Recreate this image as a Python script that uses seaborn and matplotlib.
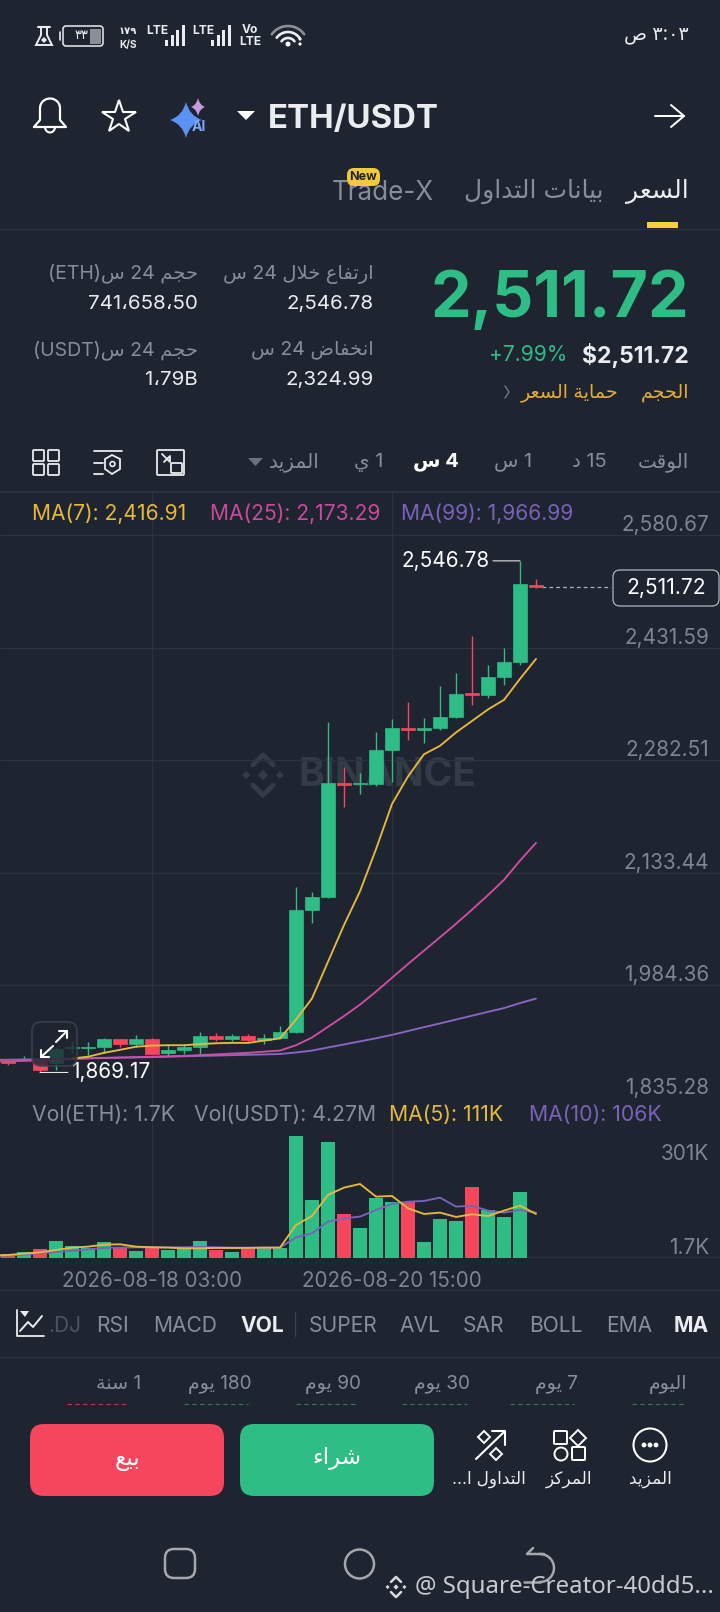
import re
import numpy as np
import pandas as pd
import seaborn as sns
import matplotlib
matplotlib.use("Agg")
import matplotlib.pyplot as plt
from matplotlib.patches import FancyBboxPatch, Circle, Polygon, PathPatch, Rectangle
from matplotlib.path import Path

BG = "#1e2531"; GRID = "#2c333e"; GREEN = "#2ebd85"; RED = "#f6465d"
YEL = "#e6b83c"; PINK = "#cf4da3"; PUR = "#8a66c4"; GREY = "#848e9c"; LIGHT = "#eaecef"

# ---------- data ----------
price_ticks = [2580.67, 2431.59, 2282.51, 2133.44, 1984.36, 1835.28]
vol_ticks = [1.7, 301]
vol_tick_labels = ["1.7K", "301K"]
date_positions = [9, 24]
date_labels = ["2026-08-18 03:00", "2026-08-20 15:00"]

cdl_high = [1884.9,1891.0,1884.9,1902.2,1910.3,1909.3,1915.4,1913.9,1918.4,1914.4,1906.3,1907.3,1922.5,1921.5,1920.5,1919.4,1920.5,1930.6,2115.2,2108.1,2333.2,2273.9,2266.3,2319.5,2337.3,2359.6,2339.3,2380.4,2398.1,2447.3,2408.3,2431.1,2546.78,2522.4]
cdl_low = [1878.9,1883.9,1869.17,1872.8,1895.1,1892.1,1895.1,1903.2,1903.2,1893.0,1891.0,1893.0,1893.0,1910.3,1910.3,1908.3,1906.3,1913.3,1921.5,2066.5,2100.0,2220.6,2238.4,2248.5,2253.6,2308.9,2305.9,2323.1,2339.0,2355.5,2364.7,2382.9,2408.3,2511.0]
cdl_open = [1883.9,1885.0,1883.9,1881.9,1901.2,1901.2,1903.2,1912.8,1906.3,1913.3,1895.1,1899.1,1902.2,1917.4,1913.9,1917.4,1912.3,1915.4,1923.0,2084.8,2101.5,2252.1,2251.0,2251.0,2296.2,2325.1,2323.1,2325.6,2340.3,2371.8,2369.7,2393.0,2412.3,2514.8]
cdl_close = [1881.9,1887.0,1872.8,1900.2,1902.7,1903.2,1912.8,1907.3,1913.9,1894.1,1898.6,1902.7,1917.4,1913.3,1917.4,1912.3,1915.4,1923.0,2084.8,2101.5,2252.1,2250.1,2252.1,2296.2,2325.1,2323.1,2325.6,2340.3,2370.3,2368.7,2393.0,2412.3,2515.8,2511.72]

ma7 = [1887.5,1890.0,1895.1,1899.1,1903.2,1904.7,1905.2,1905.2,1906.7,1907.8,1908.3,1908.3,1911.3,1914.3,1939.2,1967.1,2015.8,2064.4,2109.1,2164.9,2224.7,2261.2,2290.6,2301.8,2319.5,2334.7,2350.0,2362.7,2390.5,2416.91]
ma25 = [1884.0,1883.9,1884.5,1885.0,1886.0,1887.0,1888.0,1888.5,1889.0,1889.5,1890.0,1890.5,1891.0,1892.1,1893.0,1894.1,1895.1,1896.7,1898.1,1905.2,1915.4,1929.6,1943.8,1959.0,1976.2,1994.5,2012.8,2030.5,2048.2,2066.0,2084.8,2104.0,2124.3,2149.7,2173.29]
ma99 = [1885.8,1886.0,1886.3,1886.6,1887.0,1887.4,1887.8,1888.2,1888.6,1889.0,1889.5,1890.0,1890.5,1891.0,1891.5,1892.0,1892.5,1893.0,1893.6,1895.6,1898.1,1902.2,1906.2,1910.3,1914.4,1918.9,1924.0,1929.1,1934.1,1939.2,1944.3,1949.4,1954.4,1961.0,1966.99]

volume = [15.5,20.8,30.3,56.9,41.0,33.5,53.7,33.5,25.0,36.7,28.2,30.3,58.0,28.2,22.9,32.5,33.5,33.5,391,186,373,143,99,195,182,182,53.7,127,122,228,156,132,212,1.7]
vol_ma5 = [10.0,12.3,16.6,20.8,28.2,35.7,38.8,45.2,46.3,38.8,36.7,35.7,33.5,33.5,34.6,34.6,34.6,35.7,35.7,107.8,136.4,203.3,226.6,238.3,198.0,200.1,160.9,142.8,147.1,133.3,141.8,136.4,153.4,169.3,142.8]
vol_ma10 = [8.0,10.2,13.4,17.6,21.9,26.1,30.3,34.6,35.7,36.7,36.7,36.7,36.7,37.8,36.7,35.7,35.7,35.7,35.7,68.5,81.3,118.4,129.0,134.3,155.5,174.6,182.0,184.2,194.8,166.2,169.3,153.4,147.1,155.5,147.1]

idx = np.arange(len(cdl_open))
ma7_idx = np.arange(4, 34)
ma_idx = np.arange(-1, 34)

# ---------- Arabic shaping (matplotlib draws glyphs left to right, unjoined) ----------
FORMS = {"ا":0xFE8D,"أ":0xFE83,"إ":0xFE87,"آ":0xFE81,"د":0xFEA9,"ذ":0xFEAB,"ر":0xFEAD,"ز":0xFEAF,"و":0xFEED,"ة":0xFE93,"ى":0xFEEF}
DUAL = {"ب":0xFE8F,"ت":0xFE95,"ث":0xFE99,"ج":0xFE9D,"ح":0xFEA1,"خ":0xFEA5,"س":0xFEB1,"ش":0xFEB5,"ص":0xFEB9,"ض":0xFEBD,"ط":0xFEC1,"ظ":0xFEC5,"ع":0xFEC9,"غ":0xFECD,"ف":0xFED1,"ق":0xFED5,"ك":0xFED9,"ل":0xFEDD,"م":0xFEE1,"ن":0xFEE5,"ه":0xFEE9,"ي":0xFEF1}

def shape_word(w):
    w = w.replace("لا", "\uFEFB")
    out = []
    for k, c in enumerate(w):
        prev = w[k-1] if k else ""
        nxt = w[k+1] if k + 1 < len(w) else ""
        jp = prev in DUAL
        jn = nxt in DUAL or nxt in FORMS or nxt == "\uFEFB"
        if c == "\uFEFB":
            out.append(chr(0xFEFC) if jp else c)
        elif c in DUAL:
            base = DUAL[c]
            out.append(chr(base + (3 if jp and jn else 2 if jn else 1 if jp else 0)))
        elif c in FORMS:
            out.append(chr(FORMS[c] + (1 if jp else 0)))
        elif c == "ء":
            out.append("\uFE80")
        else:
            out.append(c)
    return "".join(out[::-1])

def ar(s):
    tokens = re.findall(r"[A-Za-z0-9٠-٩.,،:()\-]+|[^A-Za-z0-9٠-٩.,،:()\-\s]+|\s+", s)
    res = [t if re.match(r"[A-Za-z0-9٠-٩.,،:()\-]", t) or t.isspace() else shape_word(t) for t in tokens]
    return "".join(res[::-1])

# ---------- figure ----------
sns.set_theme(style="dark", rc={"figure.facecolor": BG, "axes.facecolor": BG, "savefig.facecolor": BG})
FONT = ["Inter", "DejaVu Sans"]
plt.rcParams["font.family"] = FONT
W, H = 720, 1612
fig = plt.figure(figsize=(W/100, H/100), dpi=100, facecolor=BG)

def px_axes(l, t, r, b, **kw):
    return fig.add_axes([l/W, 1-b/H, (r-l)/W, (b-t)/H], **kw)

def px(v):
    return v * 0.72

# layer under the chart (watermark) and layer above it
back = fig.add_axes([0, 0, 1, 1], zorder=0)
front = fig.add_axes([0, 0, 1, 1], zorder=10)
for layer in (back, front):
    layer.set_xlim(0, W); layer.set_ylim(H, 0); layer.axis("off"); layer.patch.set_alpha(0)

# ---------- price panel ----------
ax = px_axes(0, 492, 720, 1098, zorder=1)
ax.patch.set_alpha(0)
scale = (1098 - 535.3) / (price_ticks[0] - price_ticks[-1])
top_price = price_ticks[0] + (535.3 - 492) / scale
ax.set_yticks(price_ticks, [f"{p:,.2f}" for p in price_ticks])
ax.set_xticks(date_positions, [])
ax.grid(True, color=GRID, lw=0.9)
ax.set_axisbelow(True)

o, c, hi, lo = map(np.array, (cdl_open, cdl_close, cdl_high, cdl_low))
up = c >= o
for mask, col in ((up, GREEN), (~up, RED)):
    ax.vlines(idx[mask], lo[mask], hi[mask], color=col, lw=1.0, zorder=2)
    ax.bar(idx[mask], np.abs(c - o)[mask], bottom=np.minimum(o, c)[mask], width=0.875, color=col, edgecolor=col, lw=0.5, zorder=3)

for xs, ys, col in ((ma_idx, ma99, PUR), (ma_idx, ma25, PINK), (ma7_idx, ma7, YEL)):
    sns.lineplot(x=xs, y=ys, ax=ax, color=col, linewidth=1.35, errorbar=None, zorder=4)
ax.set_xlim(-0.5, 44.5)
ax.set_ylim(price_ticks[-1], top_price)
ax.set_xlabel(""); ax.set_ylabel("")
ax.yaxis.tick_right()
ax.tick_params(axis="y", length=0, pad=-8, labelsize=px(20.7), labelcolor="#7d8590")
ax.tick_params(axis="x", length=0)
for lb in ax.get_yticklabels():
    lb.set_ha("right"); lb.set_va("bottom")
for s in ax.spines.values():
    s.set_visible(False)
ax.spines["top"].set_visible(True); ax.spines["top"].set_color(GRID)

# last price dashed guide, high and low markers
last = cdl_close[-1]
ax.plot([33.4, 37.7], [last, last], color="#aeb4bc", lw=0.9, ls=(0, (3, 2.5)), zorder=2)
hi_i = int(np.argmax(hi)); lo_i = int(np.argmin(lo))
ax.annotate(f"{hi[hi_i]:,.2f}", xy=(hi_i, hi[hi_i]), xytext=(hi_i - 1.9, hi[hi_i]), ha="right", va="center",
            fontsize=px(20.7), color="white", arrowprops=dict(arrowstyle="-", color="white", lw=0.7, shrinkA=0, shrinkB=0))
ax.annotate(f"{lo[lo_i]:,.2f}", xy=(lo_i, lo[lo_i]), xytext=(lo_i + 1.95, lo[lo_i]), ha="left", va="center",
            fontsize=px(20.7), color="white", arrowprops=dict(arrowstyle="-", color="white", lw=0.7, shrinkA=0, shrinkB=0))

# ---------- volume panel ----------
vax = px_axes(0, 1098, 720, 1258.3, zorder=1)
vax.patch.set_alpha(0)
df = pd.DataFrame({"i": idx, "vol": volume, "dir": np.where(up, "up", "down")})
sns.barplot(data=df, x="i", y="vol", hue="dir", palette={"up": GREEN, "down": RED}, native_scale=True,
            dodge=False, width=0.875, legend=False, saturation=1, linewidth=0, edgecolor="none", ax=vax, zorder=3)
sns.lineplot(x=ma_idx, y=vol_ma10, ax=vax, color="#7a62b8", linewidth=1.35, errorbar=None, zorder=4)
sns.lineplot(x=ma_idx, y=vol_ma5, ax=vax, color=YEL, linewidth=1.35, errorbar=None, zorder=5)
vax.set_xlim(-0.5, 44.5)
vax.set_ylim(vol_ticks[0], vol_ticks[0] + (1258.3 - 1098) * 3 * 1.061)
vax.set_xlabel(""); vax.set_ylabel("")
vax.set_xticks(date_positions, date_labels)
vax.set_yticks(vol_ticks, vol_tick_labels)
vax.yaxis.tick_right()
vax.tick_params(axis="y", length=0, pad=-8, labelsize=px(20.7), labelcolor="#7d8590")
vax.tick_params(axis="x", length=0, pad=9, labelsize=px(20.6), labelcolor="#7d8590")
for lb in vax.get_yticklabels():
    lb.set_ha("right"); lb.set_va("bottom")
for s in vax.spines.values():
    s.set_visible(False)
vax.grid(True, axis="x", color=GRID, lw=0.9)
vax.set_axisbelow(True)
vax.axhline(vol_ticks[0], color=GRID, lw=1.2, zorder=1)

# ---------- overlay in screen pixels ----------
ov = back

def t(x, y, s, size=20, color=GREY, ha="center", weight="normal", family=None):
    return ov.text(x, y, s, fontsize=px(size), color=color, ha=ha, va="center", weight=weight, family=family or FONT)

def line(xs, ys, color="white", lw=1.5, **kw):
    ov.plot(xs, ys, color=color, lw=lw, solid_capstyle="round", solid_joinstyle="round", **kw)

def rrect(l, t_, r, b, rad, fc="none", ec="none", lw=1.0, alpha=None, z=2):
    ov.add_patch(FancyBboxPatch((l + rad, t_ + rad), r - l - 2*rad, b - t_ - 2*rad, boxstyle=f"round,pad={rad},rounding_size={rad}",
                                fc=fc, ec=ec, lw=lw, alpha=alpha, zorder=z))

def sparkle(cx, cy, rx, ry, col):
    a, b = rx*0.22, ry*0.22
    v = [(cx, cy-ry), (cx+a, cy-b), (cx+rx, cy), (cx+a, cy+b), (cx, cy+ry), (cx-a, cy+b), (cx-rx, cy), (cx-a, cy-b), (cx, cy-ry)]
    ov.add_patch(PathPatch(Path(v, [1,3,3,3,3,3,3,3,3]), fc=col, ec="none"))

def diamond(cx, cy, r, col):
    ov.add_patch(Polygon([(cx, cy-r), (cx+r, cy), (cx, cy+r), (cx-r, cy)], fc=col, ec="none"))

def binance(cx, cy, s, col):
    diamond(cx, cy, s*0.22, col); diamond(cx-s*0.7, cy, s*0.17, col); diamond(cx+s*0.7, cy, s*0.17, col)
    w = 3.0 * s / 20
    line([cx-s*0.42, cx, cx+s*0.42], [cy-s*0.42, cy-s*0.84, cy-s*0.42], col, w, zorder=1)
    line([cx-s*0.42, cx, cx+s*0.42], [cy+s*0.42, cy+s*0.84, cy+s*0.42], col, w, zorder=1)

# watermark lies under the candles
binance(263, 775, 24, "#333b46")
t(298, 776, "BINANCE", 39, "#333b46", "left", "bold")

ov = front

# hairlines
for y in (228.5, 1290, 1357):
    line([0, W], [y, y], GRID, 0.9)

# status bar
line([38, 50], [27, 27], LIGHT, 1.5)
ov.add_patch(Polygon([(41, 27), (41, 35), (36, 45), (52, 45), (47, 35), (47, 27)], fc="none", ec=LIGHT, lw=1.4))
diamond(44, 40, 3, LIGHT)
rrect(63, 26, 103, 46, 3, ec=LIGHT, lw=1.1)
ov.add_patch(Rectangle((90, 28.5), 11, 15, fc="#8a8f96", ec="none"))
line([60, 60], [32, 40], LIGHT, 1.2)
t(82, 36, "٣٣", 13, LIGHT)
t(128, 31, "١٧٩", 10, LIGHT, weight="bold")
t(128, 45, "K/S", 10, LIGHT, weight="bold")
for x0 in (165, 211):
    for k, h in enumerate((6, 11, 16, 21)):
        ov.add_patch(Rectangle((x0 + 5.5*k, 46-h), 3.2, h, fc=LIGHT, ec="none"))
t(157, 31, "LTE", 12, LIGHT, weight="bold")
t(203, 31, "LTE", 12, LIGHT, weight="bold")
t(250, 30, "Vo", 12, LIGHT, weight="bold")
t(250, 42, "LTE", 12, LIGHT, weight="bold")
th = np.linspace(np.pi*1.2, np.pi*1.8, 20)
for r, col in ((20, "#8a8f96"), (14, LIGHT), (8, LIGHT)):
    line(288 + r*np.cos(th), 46 + r*np.sin(th), col, 1.9)
ov.add_patch(Circle((288, 44), 1.8, fc=LIGHT))
ov.add_patch(Circle((300, 44), 0.9, fc=LIGHT)); ov.add_patch(Circle((300, 39), 0.9, fc=LIGHT))
t(689, 35, ar("٣:٠٣ ص"), 19, LIGHT, "right")

# header
ang = np.linspace(np.pi, 2*np.pi, 16)
bx = [34, 40, 40] + list(50 + 10*np.cos(ang)) + [60, 60, 66, 34]
by = [127, 120, 112] + list(108 + 9.5*np.sin(ang)) + [112, 120, 127, 127]
line(bx, by, "white", 1.6)
th = np.linspace(0, np.pi, 12)
line(50 + 5*np.cos(th), 127 + 5.5*np.sin(th), "white", 1.5)
ov.plot([119], [116.5], marker="*", ms=31*0.72*1.12, mfc="none", mec="white", mew=1.5)
sparkle(186, 120, 16, 18, "#5b93f5")
sparkle(198, 107, 7, 9, "#c79be0")
t(199, 127, "AI", 14, "#7ea7f5", weight="bold")
ov.add_patch(Polygon([(237, 111), (255, 111), (246, 120)], fc="white", ec="none"))
t(268, 119, "ETH/USDT", 33, LIGHT, "left", "bold")
line([655, 684, 671], [116, 116, 105], "white", 1.4)
line([684, 671], [116, 127], "white", 1.4)

# tabs
t(689, 191, ar("السعر"), 25, LIGHT, "right")
t(604, 191, ar("بيانات التداول"), 25, GREY, "right")
t(434, 193, "Trade-X", 26, GREY, "right")
rrect(347, 168, 380, 186, 7, fc="#f0c93c", z=5)
ov.text(363.5, 177, "New", fontsize=px(12.5), color="#1e2329", ha="center", va="center", weight="bold", zorder=6)
ov.add_patch(Rectangle((647, 222), 31, 6, fc="#f6cf3f", ec="none"))

# stats
t(689, 300, "2,511.72", 64.5, GREEN, "right", "bold")
t(567, 355, "+7.99%", 21, GREEN, "right")
t(689, 355, "$2,511.72", 23, LIGHT, "right", "bold")
t(689, 393, ar("الحجم"), 19, "#e3ad35", "right")
t(619, 393, ar("حماية السعر"), 19, "#e3ad35", "right")
line([505, 509, 505], [386, 392, 398], "#6a7280", 1.1)
t(374, 274, ar("ارتفاع خلال 24 س"), 19.5, GREY, "right")
t(374, 304, "2,546.78", 20.5, LIGHT, "right")
t(374, 350, ar("انخفاض 24 س"), 19.5, GREY, "right")
t(374, 380, "2,324.99", 20.5, LIGHT, "right")
t(198, 273, ar("حجم 24 س(ETH)"), 19.5, GREY, "right")
t(198, 304, "741،658،50", 20.5, LIGHT, "right")
t(198, 350, ar("حجم 24 س(USDT)"), 19.5, GREY, "right")
t(198, 380, "1،79B", 20.5, LIGHT, "right")

# interval toolbar
t(689, 462, ar("الوقت"), 20, GREY, "right")
t(607, 462, ar("15 د"), 20, GREY, "right")
t(532, 462, ar("1 س"), 20, GREY, "right")
t(459, 462, ar("4 س"), 20, "white", "right", "bold")
t(383, 462, ar("1 ي"), 20, GREY, "right")
t(320, 462, ar("المزيد"), 20, GREY, "right")
ov.add_patch(Polygon([(248, 458), (263, 458), (255.5, 466)], fc="#6a7280", ec="none"))
for x, y in ((33, 450), (48, 450), (33, 464), (48, 464)):
    rrect(x, y, x+11, y+11, 1, ec=LIGHT, lw=1.3)
line([94, 122], [451, 451], LIGHT, 1.3)
line([94, 103], [463, 463], LIGHT, 1.3); line([94, 103], [474, 474], LIGHT, 1.3)
ov.add_patch(Polygon([(112, 455), (120, 459), (120, 469), (112, 474), (105, 469), (105, 459)], fc="none", ec=LIGHT, lw=1.3))
ov.add_patch(Circle((112.5, 464), 2.4, fc="none", ec=LIGHT, lw=1.2))
rrect(157, 450, 184, 475, 1, ec=LIGHT, lw=1.3)
rrect(171, 463, 182, 473, 1, fc=BG, ec=LIGHT, lw=1.3, z=3)
line([162, 170, 170, 164], [454, 462, 456, 462], LIGHT, 1.3)

# MA legends
t(32, 513.5, "MA(7): 2,416.91", 21, YEL, "left")
t(210, 513.5, "MA(25): 2,173.29", 21, "#c94a9c", "left")
t(401, 513.5, "MA(99): 1,966.99", 21, "#7a62b8", "left")
t(32, 1115, "Vol(ETH): 1.7K", 21.2, GREY, "left")
t(194, 1115, "Vol(USDT): 4.27M", 21.2, GREY, "left")
t(389, 1115, "MA(5): 111K", 21.2, YEL, "left")
t(529, 1115, "MA(10): 106K", 21.2, "#7a62b8", "left")

# current price tag
rrect(613, 570, 719, 606, 7, fc=BG, ec="#aeb4bc", lw=0.9)
ov.text(666.5, 588, f"{last:,.2f}", fontsize=px(21), color="white", ha="center", va="center", zorder=5)

# expand button over the chart
rrect(32, 1022, 77, 1066, 9, fc=BG, ec="#3d444e", lw=1.3, alpha=0.8, z=6)
line([41, 53], [1057, 1046], "white", 1.5, zorder=7)
line([41, 41, 49], [1050, 1057, 1057], "white", 1.5, zorder=7)
line([56, 67], [1042, 1031], "white", 1.5, zorder=7)
line([59, 67, 67], [1031, 1031, 1038], "white", 1.5, zorder=7)

# indicator tabs
line([17, 17, 44], [1310, 1336, 1336], LIGHT, 1.3)
line([20, 28, 33, 42], [1331, 1322, 1327, 1316], LIGHT, 1.4)
ov.add_patch(Polygon([(20, 1311), (29, 1311), (25, 1317)], fc=LIGHT, ec="none"))
t(48, 1326, ".DJ", 21, "#4a525d", "left")
for x, s in ((113, "RSI"), (185, "MACD"), (343, "SUPER"), (420, "AVL"), (484, "SAR"), (556, "BOLL"), (629, "EMA")):
    t(x, 1326, s, 21, GREY)
t(262, 1326, "VOL", 21, LIGHT, weight="bold")
t(709, 1326, "MA", 21, LIGHT, "right", "bold")
line([295, 295], [1312, 1336], "#3a424d", 0.9)

# performance strip (values cut off by the button bar)
for x, s in ((687, "اليوم"), (578, "7 يوم"), (470, "30 يوم"), (361, "90 يوم"), (252, "180 يوم"), (141, "1 سنة")):
    t(x, 1384, ar(s), 19, GREY, "right")
for (a, b), col in (((632, 684), "#2c7a5e"), ((510, 574), "#2c7a5e"), ((402, 467), "#2c7a5e"), ((296, 358), "#2c7a5e"), ((184, 248), "#2c7a5e"), ((67, 128), "#a83f50")):
    line([a, b], [1403.5, 1403.5], col, 0.8, ls=(0, (4, 3)))

# buttons
rrect(30, 1424, 224, 1496, 14, fc=RED)
rrect(240, 1424, 434, 1496, 14, fc=GREEN)
ov.text(128, 1460, ar("بيع"), fontsize=px(23), color="white", ha="center", va="center", zorder=5)
ov.text(337, 1459, ar("شراء"), fontsize=px(23), color="white", ha="center", va="center", zorder=5)

# bottom icons
line([476, 504], [1459, 1432], "white", 1.5); line([492, 505, 505], [1431, 1431, 1445], "white", 1.5)
ov.add_patch(Polygon([(484, 1431), (490, 1437), (484, 1443), (478, 1437)], fc="none", ec="white", lw=1.4))
ov.add_patch(Polygon([(496, 1448), (502, 1454), (496, 1460), (490, 1454)], fc="none", ec="white", lw=1.4))
rrect(554, 1431, 567, 1444, 1, ec="white", lw=1.4)
ov.add_patch(Polygon([(578, 1430), (586, 1438), (578, 1446), (570, 1438)], fc="none", ec="white", lw=1.4))
ov.add_patch(Circle((561, 1454), 6.5, fc="none", ec="white", lw=1.4))
rrect(572, 1447, 585, 1460, 1, ec="white", lw=1.4)
ov.add_patch(Circle((650, 1445), 16.5, fc="none", ec="white", lw=1.5))
for dx in (-6, 0, 6):
    ov.add_patch(Circle((650+dx, 1445), 1.7, fc="white"))
t(489, 1479, ar("التداول ا..."), 17, LIGHT)
t(569, 1479, ar("المركز"), 17, LIGHT)
t(650, 1479, ar("المزيد"), 17, LIGHT)

# navigation bar
rrect(165, 1549, 195, 1578, 9, ec="#a4a8ad", lw=1.8)
ov.add_patch(Circle((359.5, 1564), 14.5, fc="none", ec="#a4a8ad", lw=1.8))
th = np.linspace(-np.pi/2, np.pi/2, 20)
line([544, 527, 533], [1554, 1554, 1548], "#a4a8ad", 1.8)
line(540 + 14*np.cos(th), 1568 + 14*np.sin(th), "#a4a8ad", 1.8)
line([540, 524], [1582, 1582], "#a4a8ad", 1.8)

# share watermark
binance(396, 1587, 12, "#d8dadd")
t(415, 1587, "@ Square-Creator-40dd5...", 24, "#c6c9cd", "left", family=["Noto Sans", "DejaVu Sans"])

fig.savefig("out.png", dpi=100, facecolor=BG)
